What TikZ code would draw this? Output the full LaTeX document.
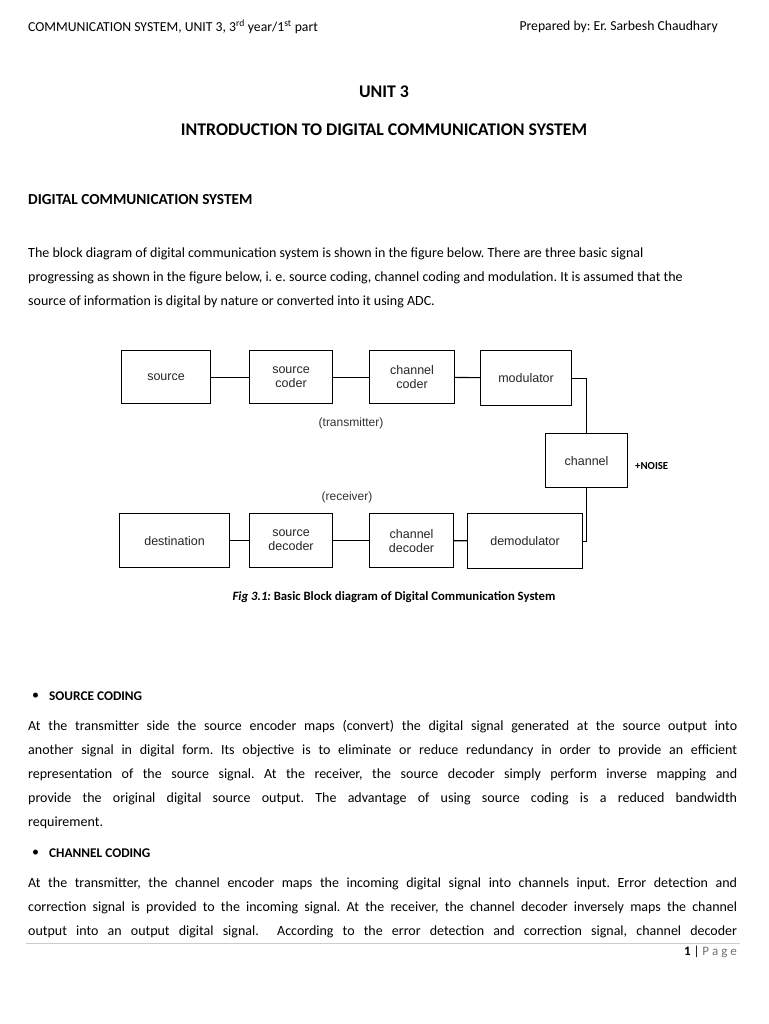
\documentclass[tikz,border=0pt]{standalone}
\usepackage{fontspec}
\setmainfont{Carlito}
\newfontfamily\diagfont{Liberation Sans}
\frenchspacing
\begin{document}
\begin{tikzpicture}[x=1pt,y=-1pt,
  txt/.style={anchor=west,inner sep=0pt,font=\fontsize{14}{16}\selectfont},
  hd/.style={anchor=west,inner sep=0pt,font=\fontsize{13.7}{16}\selectfont},
  blk/.style={draw,line width=1.1pt,anchor=north west,inner sep=0pt,align=center,
    font=\diagfont\fontsize{12.5}{14}\selectfont\color{black!85}},
  wire/.style={line width=1.1pt},
  lbl/.style={inner sep=0pt,font=\diagfont\fontsize{12}{14}\selectfont\color{black!80}}]
\fill[white] (0,0) rectangle (768,1024);
\useasboundingbox (0,0) rectangle (768,1024);
\newcommand{\jl}[1]{\makebox[709pt][s]{#1}}
% header
\node[hd] (h1) at (28,27) {COMMUNICATION SYSTEM, UNIT 3, 3\textsuperscript{rd} year/1\textsuperscript{st} part};
\node[hd,anchor=east] (h2) at (718,27) {Prepared by: Er. Sarbesh Chaudhary};
\node[inner sep=0pt,font=\bfseries\fontsize{17.8}{20}\selectfont] (t1) at (384,92) {UNIT 3};
\node[inner sep=0pt,font=\bfseries\fontsize{17.8}{20}\selectfont] (t2) at (384,130) {INTRODUCTION TO DIGITAL COMMUNICATION SYSTEM};
\node[txt,font=\bfseries\fontsize{15.3}{17}\selectfont] (s1) at (28,200) {DIGITAL COMMUNICATION SYSTEM};
\node[txt] (p1) at (28,254) {The block diagram of digital communication system is shown in the figure below. There are three basic signal};
\node[txt] (p2) at (28,278) {progressing as shown in the figure below, i. e. source coding, channel coding and modulation. It is assumed that the};
\node[txt] (p3) at (28,302) {source of information is digital by nature or converted into it using ADC.};
% diagram
\node[blk,minimum width=89pt,minimum height=53pt] (src) at (121,350) {source};
\node[blk,minimum width=83pt,minimum height=53pt] (sc) at (249,350) {source\\coder};
\node[blk,minimum width=85pt,minimum height=53pt] (cc) at (369,350) {channel\\coder};
\node[blk,minimum width=91pt,minimum height=55pt] (mod) at (480,350) {modulator};
\node[blk,minimum width=82pt,minimum height=54pt] (ch) at (545,433) {channel};
\node[blk,minimum width=110pt,minimum height=54pt] (dst) at (119,513) {destination};
\node[blk,minimum width=83pt,minimum height=54pt] (sd) at (249,513) {source\\decoder};
\node[blk,minimum width=84pt,minimum height=54pt] (cd) at (369,513) {channel\\decoder};
\node[blk,minimum width=115pt,minimum height=55pt] (dem) at (467,513) {demodulator};
\draw[wire] (src) -- (sc);
\draw[wire] (sc) -- (cc);
\draw[wire] (cc) -- (mod);
\draw[wire] (mod.east) -| (ch.north);
\draw[wire] (ch.south) |- (dem.east);
\draw[wire] (dst) -- (sd);
\draw[wire] (sd) -- (cd);
\draw[wire] (cd) -- (dem);
\node[lbl] (tx) at (351,423) {(transmitter)};
\node[lbl] (rx) at (347,497) {(receiver)};
\node[inner sep=0pt,anchor=west,font=\bfseries\fontsize{10.8}{12}\selectfont] (noise) at (635,466) {+NOISE};
\node[inner sep=0pt,font=\bfseries\fontsize{12.7}{14}\selectfont] (cap) at (394,597) {\textit{Fig 3.1:} Basic Block diagram of Digital Communication System};
% source coding
\node[txt] (b1) at (32,696) {•};
\node[txt,font=\bfseries\fontsize{13.3}{15}\selectfont] (sct) at (49,696) {SOURCE CODING};
\node[txt] (q1) at (28,727) {\jl{At the transmitter side the source encoder maps (convert) the digital signal generated at the source output into}};
\node[txt] (q2) at (28,751) {\jl{another signal in digital form. Its objective is to eliminate or reduce redundancy in order to provide an efficient}};
\node[txt] (q3) at (28,775) {\jl{representation of the source signal. At the receiver, the source decoder simply perform inverse mapping and}};
\node[txt] (q4) at (28,799) {\jl{provide the original digital source output. The advantage of using source coding is a reduced bandwidth}};
\node[txt] (q5) at (28,823) {requirement.};
% channel coding
\node[txt] (b2) at (32,853) {•};
\node[txt,font=\bfseries\fontsize{13.3}{15}\selectfont] (cct) at (49,853) {CHANNEL CODING};
\node[txt] (r1) at (28,884) {\jl{At the transmitter, the channel encoder maps the incoming digital signal into channels input. Error detection and}};
\node[txt] (r2) at (28,908) {\jl{correction signal is provided to the incoming signal. At the receiver, the channel decoder inversely maps the channel}};
\node[txt] (r3) at (28,932) {\jl{output into an output digital signal.\ \ According to the error detection and correction signal, channel decoder}};
% footer
\draw[black!20,line width=0.8pt] (26,943) -- (740,943);
\node[inner sep=0pt,anchor=east,font=\fontsize{13}{15}\selectfont] (ft) at (737,952) {\textbf{1} | {\color{black!55}P a g e}};
\end{tikzpicture}
\end{document}
